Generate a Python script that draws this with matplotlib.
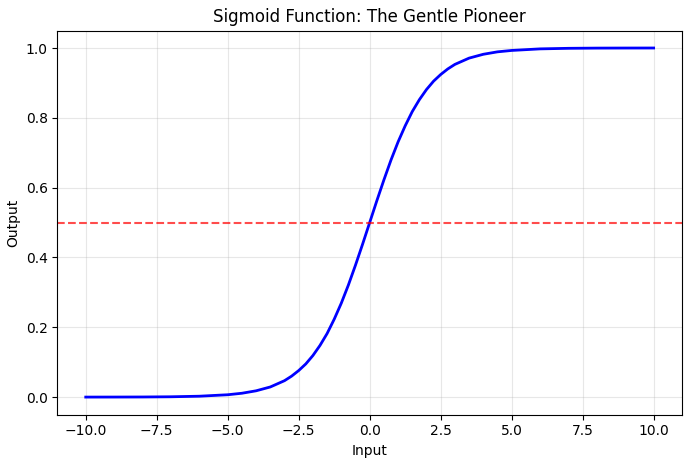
import matplotlib
matplotlib.use("Agg")
import matplotlib.pyplot as plt

# Values
inputs = [-10, -9, -8, -7, -6, -5, -4.5, -4, -3.5, -3, -2.75, -2.5, -2.25, -2, -1.75,
          -1.5, -1.25, -1, -0.75, -0.5, -0.25, 0, 0.25, 0.5, 0.75, 1, 1.25, 1.5,
          1.75, 2, 2.25, 2.5, 2.75, 3, 3.5, 4, 4.5, 5, 6, 7, 8, 9, 10]
outputs = [0.0000, 0.0001, 0.0003, 0.0009, 0.0025, 0.0067, 0.011, 0.018, 0.029,
           0.047, 0.060, 0.076, 0.095, 0.119, 0.148, 0.182, 0.223, 0.269, 0.321,
           0.378, 0.438, 0.500, 0.562, 0.622, 0.679, 0.731, 0.777, 0.818, 0.852,
           0.881, 0.905, 0.924, 0.940, 0.953, 0.971, 0.982, 0.989, 0.993, 0.9975,
           0.9991, 0.9997, 0.9999, 1.0000]
threshold = 0.5

fig, ax = plt.subplots(figsize=(6.91, 4.70), dpi=100)
fig.subplots_adjust(left=0.083, right=0.987, top=0.935, bottom=0.118)
ax.plot(inputs, outputs, color="blue", linewidth=2)
ax.axhline(threshold, color="red", linestyle="--", alpha=0.7)
ax.set_title("Sigmoid Function: The Gentle Pioneer")
ax.set_xlabel("Input")
ax.set_ylabel("Output")
ax.grid(True, alpha=0.3)
fig.savefig("out.png", dpi=100)
